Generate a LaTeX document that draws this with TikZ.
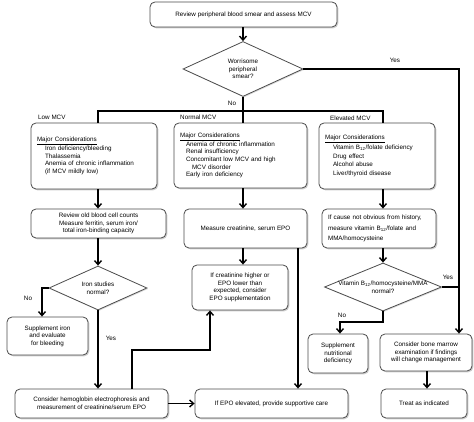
\documentclass[tikz,border=0pt]{standalone}
\usepackage{fontspec}
\setmainfont{Liberation Sans}
\usetikzlibrary{shapes.geometric,arrows.meta,shadows}
\begin{document}
\begin{tikzpicture}[x=1pt,y=-1pt,
  font=\fontsize{6.3}{7.6}\selectfont,
  box/.style={draw=black!70, line width=0.8pt, rounded corners=5pt, fill=white,
    drop shadow={shadow xshift=1.3pt, shadow yshift=-1.3pt, opacity=0.4},
    align=center, inner sep=2pt},
  lbox/.style={box, align=left, inner xsep=6pt},
  dia/.style={diamond, draw=black!70, line width=0.8pt, fill=white, inner sep=0pt,
    drop shadow={shadow xshift=1pt, shadow yshift=-1pt, opacity=0.3}},
  txt/.style={align=center, inner sep=0pt},
  lab/.style={inner sep=0pt},
  conn/.style={line width=1.6pt},
  arr/.style={line width=1.6pt, -{Straight Barb[length=4pt,width=7pt,line width=1.4pt]}}
]
\useasboundingbox (0,0) rectangle (474,422);

% nodes
\node[box, minimum width=187pt, minimum height=25pt] (top) at (243.5,14.5) {Review peripheral blood smear and assess MCV};
\node[dia, minimum width=120pt, minimum height=55pt] (d1) at (243,69) {};
\node[txt] (d1t) at (d1) {Worrisome\\peripheral\\smear?};

\node[lbox, minimum width=126pt, minimum height=66pt, text width=114pt] (low) at (94,156)
  {\underline{Major Considerations}\\
   \hspace*{8pt}Iron deficiency/bleeding\\
   \hspace*{8pt}Thalassemia\\
   \hspace*{8pt}Anemia of chronic inflammation\\
   \hspace*{8pt}(if MCV mildly low)};
\node[lbox, minimum width=133pt, minimum height=65pt, text width=121pt] (normal) at (240.5,155.5)
  {\underline{Major Considerations}\\
   \hspace*{6pt}Anemia of chronic inflammation\\
   \hspace*{6pt}Renal insufficiency\\
   \hspace*{6pt}Concomitant low MCV and high\\
   \hspace*{12pt}MCV disorder\\
   \hspace*{6pt}Early iron deficiency};
\node[lbox, minimum width=116pt, minimum height=66pt, text width=104pt] (elev) at (377,156)
  {\underline{Major Considerations}\\[1pt]
   \hspace*{8pt}Vitamin B\textsubscript{12}/folate deficiency\\[1pt]
   \hspace*{8pt}Drug effect\\[1pt]
   \hspace*{8pt}Alcohol abuse\\[1pt]
   \hspace*{8pt}Liver/thyroid disease};

\node[box, minimum width=135pt, minimum height=29pt] (review) at (98.5,223.5)
  {Review old blood cell counts\\Measure ferritin, serum iron/\\total iron-binding capacity};
\node[box, minimum width=123pt, minimum height=39pt] (measure) at (245.5,228.5)
  {Measure creatinine, serum EPO};
\node[lbox, minimum width=114pt, minimum height=39pt, text width=102pt] (cause) at (379,228.5)
  {If cause not obvious from history,\\[3pt]measure vitamin B\textsubscript{12}/folate and\\[3pt]MMA/homocysteine};

\node[dia, minimum width=98pt, minimum height=44pt] (d3) at (98,288) {};
\node[txt] (d3t) at (d3) {Iron studies\\normal?};
\node[box, minimum width=96pt, minimum height=45pt] (suppEPO) at (240,287.5)
  {If creatinine higher or\\EPO lower than\\expected, consider\\EPO supplementation};
\node[dia, minimum width=117pt, minimum height=48pt] (d2) at (383,287) {};
\node[txt] (d2t) at (d2) {Vitamin B\textsubscript{12}/homocysteine/MMA\\normal?};

\node[box, minimum width=81pt, minimum height=38pt] (supiron) at (47.5,336)
  {Supplement iron\\and evaluate\\for bleeding};
\node[box, minimum width=60pt, minimum height=39pt] (supnut) at (338,353.5)
  {Supplement\\nutritional\\deficiency};
\node[box, minimum width=92pt, minimum height=37pt] (marrow) at (426,352.5)
  {Consider bone marrow\\examination if findings\\will change management};

\node[box, minimum width=153pt, minimum height=29pt] (hemo) at (91.5,403.5)
  {Consider hemoglobin electrophoresis and\\measurement of creatinine/serum EPO};
\node[box, minimum width=153pt, minimum height=29pt] (epoel) at (271.5,403.5)
  {If EPO elevated, provide supportive care};
\node[box, minimum width=86pt, minimum height=29pt] (treat) at (424,403.5)
  {Treat as indicated};

% labels
\node[lab] (yes1) at (395,60) {Yes};
\node[lab] (no1) at (232,103) {No};
\node[lab, anchor=west] (lowl) at (38,117) {Low MCV};
\node[lab, anchor=west] (norml) at (180,117) {Normal MCV};
\node[lab, anchor=west] (elevl) at (330,118) {Elevated MCV};
\node[lab] (no3) at (28,298) {No};
\node[lab] (yes3) at (111,338) {Yes};
\node[lab] (yes2) at (448,277) {Yes};
\node[lab] (no2) at (342,315) {No};

% coordinates
\coordinate (yc) at (459,69);
\coordinate (nL) at (98,111);
\coordinate (nM) at (243,111);
\coordinate (nR) at (383,111);
\coordinate (i1) at (42,288);
\coordinate (h1) at (132,350);
\coordinate (h2) at (210,350);
\coordinate (m1) at (298,248);
\coordinate (n2) at (383,322);
\coordinate (n3) at (340,322);
\coordinate (t1) at (427,371);

% connectors
\draw[arr] (d1.north |- top.south) -- (d1.north);
\draw[arr] (d1.east) -- (yc) -- (yc |- marrow.north);
\draw[conn] (d1.south) -- (nM);
\draw[conn] (low.north -| nL) -- (nL) -- (nR) -- (elev.north -| nR);
\draw[conn] (nM) -- (normal.north -| nM);

\draw[arr] (low.south -| nL) -- (review.north -| nL);
\draw[arr] (review.south -| d3.north) -- (d3.north);
\draw[arr] (d3.west) -- (i1) -- (i1 |- supiron.north);
\draw[arr] (d3.south) -- (d3.south |- hemo.north);
\draw[arr] (hemo.north -| h1) -- (h1) -- (h2) -- (h2 |- suppEPO.south);
\draw[arr] (hemo.east) -- (epoel.west);

\draw[arr] (normal.south -| nM) -- (measure.north -| nM);
\draw[arr] (measure.south -| nM) -- (suppEPO.north -| nM);
\draw[arr] (m1) -- (epoel.north -| m1);

\draw[arr] (elev.south -| nR) -- (cause.north -| nR);
\draw[arr] (cause.south -| d2.north) -- (d2.north);
\draw[conn] (d2.east) -- (d2.east -| yc);
\draw[arr] (d2.south) -- (n2) -- (n3) -- (n3 |- supnut.north);
\draw[arr] (t1) -- (treat.north -| t1);
\end{tikzpicture}
\end{document}
